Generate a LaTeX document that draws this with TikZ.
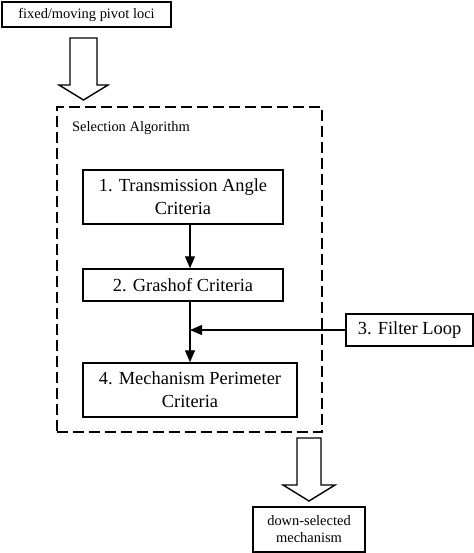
\documentclass[tikz,border=0pt]{standalone}
\usepackage{fontspec}
\setmainfont{Liberation Serif}
\usetikzlibrary{arrows.meta}
\begin{document}
\begin{tikzpicture}[x=1bp,y=-1bp,
 box/.style={draw,line width=1.5bp,inner sep=0pt,align=center,font=\fontsize{18.5}{23}\selectfont},
 smallbox/.style={draw,line width=1.5bp,inner sep=0pt,align=center,font=\fontsize{14.5}{17}\selectfont},
 conn/.style={line width=1.3bp,-{Triangle[length=12bp,width=10bp]}},
 hollow/.style={draw,line width=1.4bp,fill=white,line join=miter},
 dashbox/.style={draw,dash pattern=on 11bp off 5bp,line width=2.3bp}]
\useasboundingbox (0,0) rectangle (474,553);
\node[smallbox,minimum width=169bp,minimum height=25bp] (src) at (86.5,14.5) {fixed/moving pivot loci};
\node[dashbox,minimum width=265bp,minimum height=325bp] (sel) at (189.5,269.5) {};
\node[anchor=base west,inner sep=0pt,font=\fontsize{14.5}{17}\selectfont] (lbl) at (72,132) {Selection Algorithm};
\node[box,minimum width=200bp,minimum height=54bp] (c1) at (183,197) {1. Transmission Angle\\Criteria};
\node[box,minimum width=200bp,minimum height=32bp] (c2) at (183,285) {2. Grashof Criteria};
\node[box,minimum width=214bp,minimum height=54bp] (c4) at (190,390) {4. Mechanism Perimeter\\Criteria};
\node[box,minimum width=127bp,minimum height=32bp] (c3) at (409.5,330) {3. Filter Loop};
\node[smallbox,minimum width=112bp,minimum height=45bp] (out) at (309,529.5) {down-selected\\mechanism};
\draw[conn] (c1.south -| c4.north) -- (c2.north -| c4.north);
\draw[conn] (c2.south -| c4.north) -- (c4.north);
\draw[conn] (c3.west) -- (c3.west -| c4.north);
\draw[hollow] (70,38) -- (97,38) -- (97,85) -- (108,85) -- (83.5,100) -- (59,85) -- (70,85) -- cycle;
\draw[hollow] (297,438) -- (321,438) -- (321,485) -- (335,485) -- (309,501) -- (283,485) -- (297,485) -- cycle;
\end{tikzpicture}
\end{document}
